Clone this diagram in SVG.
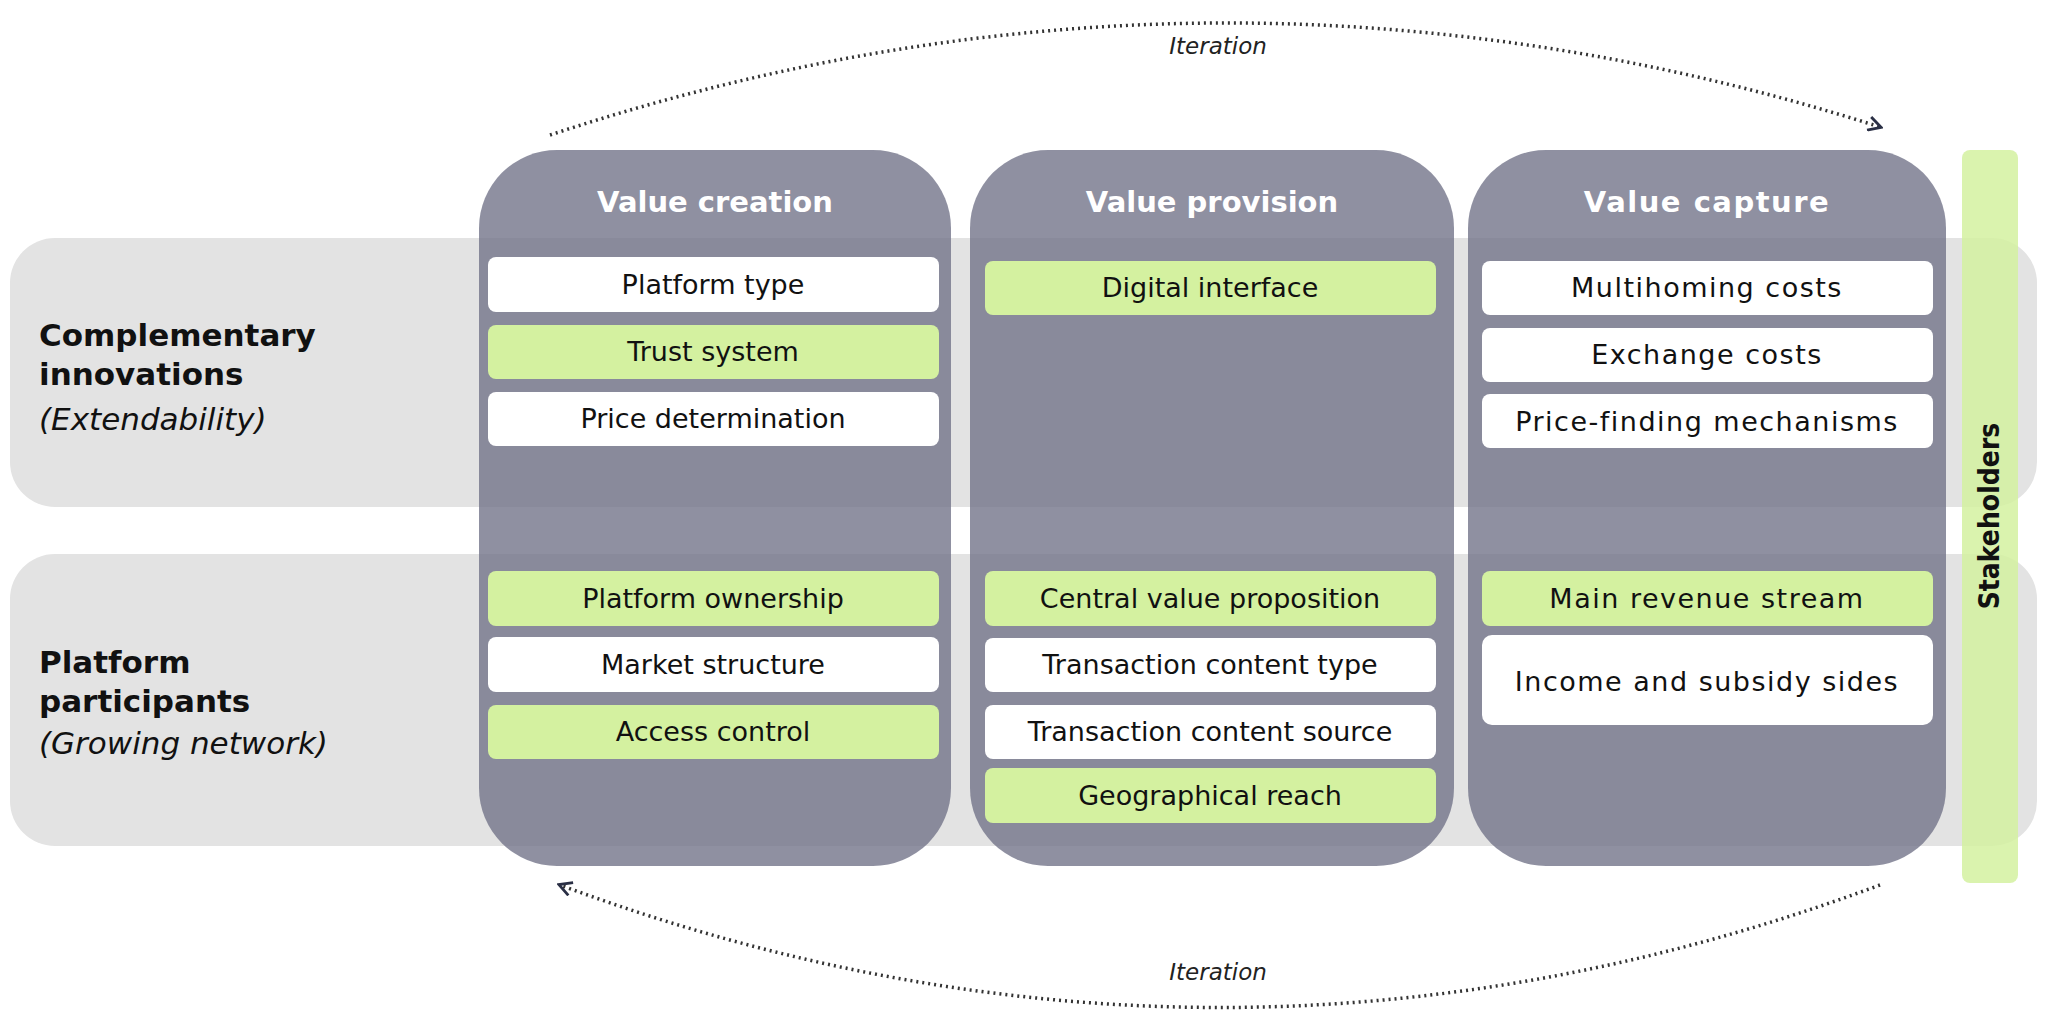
<svg xmlns="http://www.w3.org/2000/svg" width="2048" height="1012" viewBox="0 0 2048 1012">
<style>
.band{fill:#e3e3e3}
.col{fill:#6f7186;fill-opacity:0.78}
.w{fill:#ffffff}
.g{fill:#d4f1a0}
.t{font-family:"DejaVu Sans",Verdana,sans-serif;font-size:27px;fill:#111;text-anchor:middle}
.h{font-family:"DejaVu Sans",Verdana,sans-serif;font-size:29px;font-weight:bold;fill:#fff;text-anchor:middle}
.lb{font-family:"DejaVu Sans",Verdana,sans-serif;font-size:31px;font-weight:bold;fill:#111}
.li{font-family:"DejaVu Sans",Verdana,sans-serif;font-size:31px;font-style:italic;fill:#111}
.it{font-family:"DejaVu Sans",Verdana,sans-serif;font-size:23px;font-style:italic;fill:#222;text-anchor:middle}
.arc{fill:none;stroke:#333;stroke-width:3.5;stroke-dasharray:2 4}
</style>
<defs>
<marker id="ah" viewBox="0 0 14 14" refX="11" refY="7" markerWidth="16" markerHeight="16" orient="auto" markerUnits="userSpaceOnUse">
<path d="M1,1 L12,7 L1,13" fill="none" stroke="#2a2f45" stroke-width="2.5"/>
</marker>
</defs>
<g id="bands">
<rect class="band" x="10" y="238" width="2027" height="269" rx="45"/>
<rect class="band" x="10" y="554" width="2027" height="292" rx="45"/>
</g>
<g id="stakeholders">
<rect x="1962" y="150" width="56" height="733" rx="8" fill="#d4f1a0" fill-opacity="0.85"/>
<text transform="translate(1999,516) rotate(-90)" font-family="DejaVu Sans Condensed,DejaVu Sans,sans-serif" font-size="28" font-weight="bold" fill="#111" text-anchor="middle">Stakeholders</text>
</g>
<g id="row-labels">
<text class="lb" x="39" y="346">Complementary</text>
<text class="lb" x="39" y="385">innovations</text>
<text class="li" x="39" y="430">(Extendability)</text>
<text class="lb" x="39" y="673">Platform</text>
<text class="lb" x="39" y="712">participants</text>
<text class="li" x="39" y="754">(Growing network)</text>
</g>
<g id="value-creation">
<rect class="col" x="479" y="150" width="472" height="716" rx="78"/>
<text class="h" x="715" y="212">Value creation</text>
<rect class="w" x="488" y="257" width="451" height="55" rx="8"/><text class="t" x="713" y="294">Platform type</text>
<rect class="g" x="488" y="325" width="451" height="54" rx="8"/><text class="t" x="713" y="361">Trust system</text>
<rect class="w" x="488" y="392" width="451" height="54" rx="8"/><text class="t" x="713" y="428">Price determination</text>
<rect class="g" x="488" y="571" width="451" height="55" rx="8"/><text class="t" x="713" y="608">Platform ownership</text>
<rect class="w" x="488" y="637" width="451" height="55" rx="8"/><text class="t" x="713" y="674">Market structure</text>
<rect class="g" x="488" y="705" width="451" height="54" rx="8"/><text class="t" x="713" y="741">Access control</text>
</g>
<g id="value-provision">
<rect class="col" x="970" y="150" width="484" height="716" rx="78"/>
<text class="h" x="1212" y="212">Value provision</text>
<rect class="g" x="985" y="261" width="451" height="54" rx="8"/><text class="t" x="1210" y="297">Digital interface</text>
<rect class="g" x="985" y="571" width="451" height="55" rx="8"/><text class="t" x="1210" y="608">Central value proposition</text>
<rect class="w" x="985" y="638" width="451" height="54" rx="8"/><text class="t" x="1210" y="674">Transaction content type</text>
<rect class="w" x="985" y="705" width="451" height="54" rx="8"/><text class="t" x="1210" y="741">Transaction content source</text>
<rect class="g" x="985" y="768" width="451" height="55" rx="8"/><text class="t" x="1210" y="805">Geographical reach</text>
</g>
<g id="value-capture">
<rect class="col" x="1468" y="150" width="478" height="716" rx="78"/>
<text class="h" x="1707" y="212" letter-spacing="1.5">Value capture</text>
<rect class="w" x="1482" y="261" width="451" height="54" rx="8"/><text class="t" x="1707" y="297" letter-spacing="1.5">Multihoming costs</text>
<rect class="w" x="1482" y="328" width="451" height="54" rx="8"/><text class="t" x="1707" y="364" letter-spacing="1.5">Exchange costs</text>
<rect class="w" x="1482" y="394" width="451" height="54" rx="8"/><text class="t" x="1707" y="431" letter-spacing="1.5">Price-finding mechanisms</text>
<rect class="g" x="1482" y="571" width="451" height="55" rx="8"/><text class="t" x="1707" y="608" letter-spacing="1.5">Main revenue stream</text>
<rect class="w" x="1482" y="635" width="451" height="90" rx="10"/><text class="t" x="1707" y="691" letter-spacing="1.5">Income and subsidy sides</text>
</g>
<g id="connectors">
<path class="arc" d="M550,135 Q1215,-85 1880,127" marker-end="url(#ah)"/>
<path class="arc" d="M1880,885 Q1220,1130 560,885" marker-end="url(#ah)"/>
<text class="it" x="1218" y="54">Iteration</text>
<text class="it" x="1218" y="980">Iteration</text>
</g>
</svg>
